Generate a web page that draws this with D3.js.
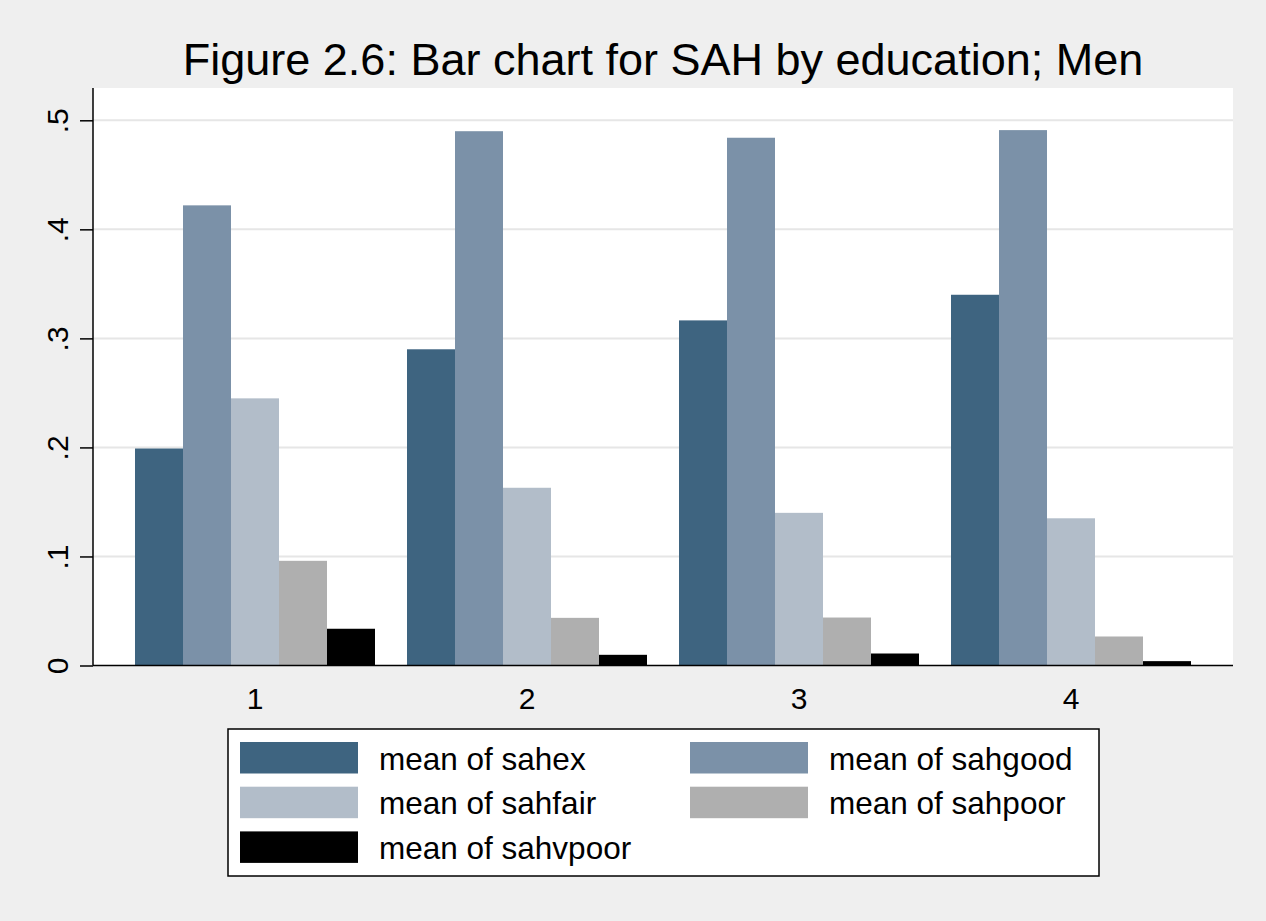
<!DOCTYPE html>
<html>
<head>
<meta charset="utf-8">
<script src="https://cdn.jsdelivr.net/npm/d3@7"></script>
<style>
  body { margin: 0; background: #efefef; }
  svg { display: block; }
</style>
</head>
<body>
<div id="chart"></div>
<script>
const title = 'Figure 2.6: Bar chart for SAH by education; Men'
const categories = ['1', '2', '3', '4']
const seriesKeys = ['sahex', 'sahgood', 'sahfair', 'sahpoor', 'sahvpoor']
const sahex = [0.199, 0.290, 0.3165, 0.340]
const sahgood = [0.422, 0.490, 0.484, 0.491]
const sahfair = [0.245, 0.163, 0.140, 0.135]
const sahpoor = [0.096, 0.0437, 0.044, 0.0266]
const sahvpoor = [0.0337, 0.0098, 0.011, 0.004]
const yTicks = [0, 0.1, 0.2, 0.3, 0.4, 0.5]
const yTickLabels = ['0', '.1', '.2', '.3', '.4', '.5']
const legendLabels = ['mean of sahex', 'mean of sahgood', 'mean of sahfair', 'mean of sahpoor', 'mean of sahvpoor']

const FONT = 'Arial, "Liberation Sans", sans-serif'
const width = 1266
const height = 921
const margin = { top: 88, right: 33, bottom: 255.5, left: 93 }

const seriesValues = { sahex, sahgood, sahfair, sahpoor, sahvpoor }
const data = categories.map((c, i) => {
  const row = { cat: c }
  seriesKeys.forEach(k => { row[k] = seriesValues[k][i] })
  return row
})

const color = d3
  .scaleOrdinal()
  .domain(seriesKeys)
  .range(['#3e6480', '#7b91a8', '#b2bdc9', '#afafaf', '#000000'])

const svg = d3
  .select('#chart')
  .append('svg')
  .attr('width', width)
  .attr('height', height)

svg.append('rect').attr('width', width).attr('height', height).attr('fill', '#efefef')

const x0 = d3
  .scaleBand()
  .domain(categories)
  .range([margin.left, width - margin.right])
  .paddingInner(32 / 272)
  .paddingOuter(0.1544)

const x1 = d3.scaleBand().domain(seriesKeys).range([0, x0.bandwidth()])

const y = d3
  .scaleLinear()
  .domain([0, 0.5])
  .range([height - margin.bottom, 120.3])

// plot region
svg
  .append('rect')
  .attr('x', margin.left)
  .attr('y', margin.top)
  .attr('width', width - margin.right - margin.left)
  .attr('height', height - margin.bottom - margin.top)
  .attr('fill', '#ffffff')

// gridlines
svg
  .append('g')
  .selectAll('line')
  .data(yTicks.slice(1))
  .join('line')
  .attr('x1', margin.left)
  .attr('x2', width - margin.right)
  .attr('y1', d => y(d))
  .attr('y2', d => y(d))
  .attr('stroke', '#e6e6e6')
  .attr('stroke-width', 2)

// bars
svg
  .append('g')
  .selectAll('g')
  .data(data)
  .join('g')
  .attr('transform', d => `translate(${x0(d.cat)},0)`)
  .selectAll('rect')
  .data(d => seriesKeys.map(k => ({ key: k, value: d[k] })))
  .join('rect')
  .attr('x', d => x1(d.key))
  .attr('y', d => y(d.value))
  .attr('width', x1.bandwidth())
  .attr('height', d => y(0) - y(d.value))
  .attr('fill', d => color(d.key))

// y axis
const yAxis = svg
  .append('g')
  .attr('transform', `translate(${margin.left},0)`)
  .call(
    d3
      .axisLeft(y)
      .tickValues(yTicks)
      .tickFormat((d, i) => yTickLabels[i])
      .tickSize(13)
      .tickPadding(12)
  )
yAxis.select('.domain').attr('d', `M0,${margin.top}V${y(0)}`).attr('stroke', '#000').attr('stroke-width', 1.5)
yAxis.selectAll('.tick line').attr('stroke', '#000').attr('stroke-width', 1.5)
yAxis
  .selectAll('.tick text')
  .attr('x', null)
  .attr('dy', null)
  .attr('transform', 'translate(-25,0) rotate(-90)')
  .attr('text-anchor', 'middle')
  .style('font', `30px ${FONT}`)
  .attr('fill', '#000')

// x axis
const xAxis = svg
  .append('g')
  .attr('transform', `translate(0,${y(0)})`)
  .call(d3.axisBottom(x0).tickSize(0).tickPadding(10))
xAxis.select('.domain').attr('d', `M${margin.left},0H${width - margin.right}`).attr('stroke', '#000').attr('stroke-width', 1.5)
xAxis
  .selectAll('.tick text')
  .attr('dy', null)
  .attr('y', 43.5)
  .style('font', `30px ${FONT}`)
  .attr('fill', '#000')

// title
svg
  .append('text')
  .attr('x', 663)
  .attr('y', 75)
  .attr('text-anchor', 'middle')
  .style('font', `45px ${FONT}`)
  .attr('fill', '#000')
  .text(title)

// legend
const legendBox = { x: 228, y: 729, w: 871, h: 147 }
svg
  .append('rect')
  .attr('x', legendBox.x)
  .attr('y', legendBox.y)
  .attr('width', legendBox.w)
  .attr('height', legendBox.h)
  .attr('fill', '#fff')
  .attr('stroke', '#000')
  .attr('stroke-width', 1.5)

const legend = svg
  .selectAll('.legend')
  .data(seriesKeys)
  .join('g')
  .attr('class', 'legend')
  .attr('transform', (d, i) => `translate(${i % 2 === 0 ? 240 : 690}, ${742 + Math.floor(i / 2) * 44.7})`)

legend
  .append('rect')
  .attr('width', 118)
  .attr('height', 31.5)
  .attr('fill', d => color(d))

legend
  .append('text')
  .attr('x', 139)
  .attr('y', 27.5)
  .style('font', `31.5px ${FONT}`)
  .attr('fill', '#000')
  .text((d, i) => legendLabels[i])
</script>
</body>
</html>
